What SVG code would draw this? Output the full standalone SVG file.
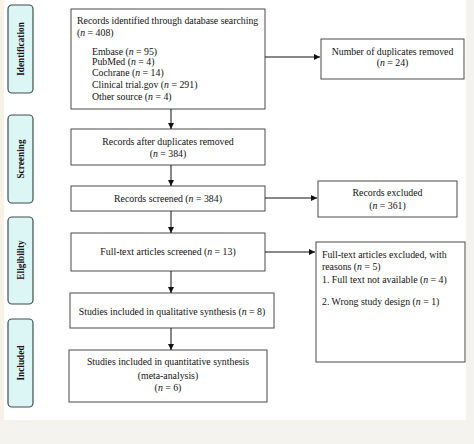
<svg xmlns="http://www.w3.org/2000/svg" width="474" height="444" viewBox="0 0 474 444">
<defs>
<marker id="ah" markerWidth="6" markerHeight="6" refX="6" refY="3" orient="auto" markerUnits="userSpaceOnUse">
<path d="M0,0 L6,3 L0,6 Z" fill="#111"/>
</marker>
<style>
.stage{fill:#dcf6f6;stroke:#3d4f4f;stroke-width:1.2}
.box{fill:#fff;stroke:#4a4a4a;stroke-width:1}
.t{font-family:"Liberation Serif","Times New Roman",serif;font-size:9.8px;fill:#111}
.c{text-anchor:middle}
.s{font-family:"Liberation Serif","Times New Roman",serif;font-size:9.3px;font-weight:bold;fill:#111;text-anchor:middle}
.ln{stroke:#111;stroke-width:1;fill:none;marker-end:url(#ah)}
</style>
</defs>
<rect x="0" y="0" width="474" height="444" fill="#f5f3ed"/>
<rect x="0" y="0" width="4" height="420" fill="#f8f1e6"/>
<rect x="4" y="0" width="462" height="420" fill="#ffffff"/>

<g id="stage-identification"><rect class="stage" x="8" y="5" width="25" height="88" rx="4"/><text class="s" transform="translate(23.5,49) rotate(-90)">Identification</text></g>
<g id="stage-screening"><rect class="stage" x="8" y="115" width="25" height="88" rx="4"/><text class="s" transform="translate(23.5,159) rotate(-90)">Screening</text></g>
<g id="stage-eligibility"><rect class="stage" x="8" y="217" width="25" height="87" rx="4"/><text class="s" transform="translate(23.5,260) rotate(-90)">Eligibility</text></g>
<g id="stage-included"><rect class="stage" x="8" y="319" width="25" height="88" rx="4"/><text class="s" transform="translate(23.5,363) rotate(-90)">Included</text></g>

<g id="identified"><rect class="box" x="71" y="9" width="194" height="100"/>
<text class="t" x="77" y="24">Records identified through database searching</text>
<text class="t" x="77" y="36">(<tspan font-style="italic">n</tspan> = 408)</text>
<text class="t" x="92" y="55">Embase (<tspan font-style="italic">n</tspan> = 95)</text>
<text class="t" x="92" y="65">PubMed (<tspan font-style="italic">n</tspan> = 4)</text>
<text class="t" x="92" y="76">Cochrane (<tspan font-style="italic">n</tspan> = 14)</text>
<text class="t" x="92" y="88">Clinical trial.gov (<tspan font-style="italic">n</tspan> = 291)</text>
<text class="t" x="92" y="100">Other source (<tspan font-style="italic">n</tspan> = 4)</text>
</g>
<g id="duplicates"><rect class="box" x="321" y="39" width="143" height="40"/>
<text class="t c" x="392.5" y="55">Number of duplicates removed</text>
<text class="t c" x="392.5" y="66">(<tspan font-style="italic">n</tspan> = 24)</text>
</g>
<g id="after-dup"><rect class="box" x="71" y="129" width="194" height="36"/>
<text class="t c" x="168" y="145">Records after duplicates removed</text>
<text class="t c" x="168" y="157">(<tspan font-style="italic">n</tspan> = 384)</text>
</g>
<g id="screened"><rect class="box" x="71" y="186" width="194" height="25"/>
<text class="t c" x="168" y="202">Records screened (<tspan font-style="italic">n</tspan> = 384)</text>
</g>
<g id="excluded"><rect class="box" x="318" y="181" width="139" height="36"/>
<text class="t c" x="387.5" y="196">Records excluded</text>
<text class="t c" x="387.5" y="209">(<tspan font-style="italic">n</tspan> = 361)</text>
</g>
<g id="fulltext"><rect class="box" x="71" y="233" width="194" height="38"/>
<text class="t c" x="168" y="255">Full-text articles screened (<tspan font-style="italic">n</tspan> = 13)</text>
</g>
<g id="ft-excluded"><rect class="box" x="316" y="242" width="149" height="120"/>
<text class="t" x="322" y="258">Full-text articles excluded, with</text>
<text class="t" x="322" y="270">reasons (<tspan font-style="italic">n</tspan> = 5)</text>
<text class="t" x="322" y="283">1. Full text not available (<tspan font-style="italic">n</tspan> = 4)</text>
<text class="t" x="322" y="305">2. Wrong study design (<tspan font-style="italic">n</tspan> = 1)</text>
</g>
<g id="qualitative"><rect class="box" x="70" y="293" width="204" height="35"/>
<text class="t c" x="172" y="315">Studies included in qualitative synthesis (<tspan font-style="italic">n</tspan> = 8)</text>
</g>
<g id="quantitative"><rect class="box" x="69" y="350" width="198" height="52"/>
<text class="t c" x="168" y="365">Studies included in quantitative synthesis</text>
<text class="t c" x="168" y="379">(meta-analysis)</text>
<text class="t c" x="168" y="391">(<tspan font-style="italic">n</tspan> = 6)</text>
</g>

<g id="connectors">
<line class="ln" x1="171" y1="109" x2="171" y2="129"/>
<line class="ln" x1="171" y1="165" x2="171" y2="186"/>
<line class="ln" x1="171" y1="211" x2="171" y2="233"/>
<line class="ln" x1="171" y1="271" x2="171" y2="293"/>
<line class="ln" x1="171" y1="328" x2="171" y2="350"/>
<line class="ln" x1="265" y1="57" x2="320" y2="57"/>
<line class="ln" x1="265" y1="198" x2="317" y2="198"/>
<line class="ln" x1="265" y1="252" x2="315" y2="252"/>
</g>
</svg>
